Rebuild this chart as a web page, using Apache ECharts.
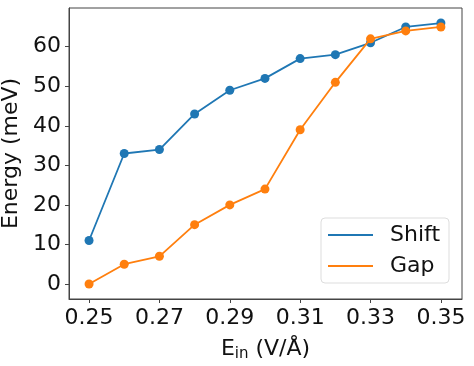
<!DOCTYPE html>
<html>
<head>
<meta charset="utf-8">
<script src="https://cdn.jsdelivr.net/npm/echarts@6/dist/echarts.min.js"></script>
<style>
html,body{margin:0;padding:0;background:#fff;}
#chart{width:474px;height:366px;}
</style>
</head>
<body>
<div id="chart"></div>
<script>
const xValues = [0.25, 0.26, 0.27, 0.28, 0.29, 0.30, 0.31, 0.32, 0.33, 0.34, 0.35];
const shiftValues = [11, 33, 34, 43, 49, 52, 57, 58, 61, 65, 66];
const gapValues = [0, 5, 7, 15, 20, 24, 39, 51, 62, 64, 65];
const xTicks = [0.25, 0.27, 0.29, 0.31, 0.33, 0.35];
const yTicks = [0, 10, 20, 30, 40, 50, 60];
const seriesNames = ['Shift', 'Gap'];
const colors = ['#1f77b4', '#ff7f0e'];

const font = 'DejaVu Sans';
const fs = 22;
const chart = echarts.init(document.getElementById('chart'), null, {renderer: 'canvas'});
const mk = (vals) => xValues.map((x, i) => [x, vals[i]]);

chart.setOption({
  animation: false,
  backgroundColor: '#fff',
  grid: {left: 69, top: 8, right: 12, bottom: 67, show: true, borderColor: '#444', borderWidth: 1,
    backgroundColor: 'transparent', containLabel: false, outerBoundsMode: 'none'},
  xAxis: {
    type: 'value', min: 0.2443, max: 0.3560,
    axisLine: {show: true, onZero: false, lineStyle: {color: '#444', width: 1}},
    axisTick: {show: true, length: 4, lineStyle: {color: '#444'}, customValues: xTicks},
    axisLabel: {customValues: xTicks, color: '#111', fontFamily: font, fontSize: fs, margin: 8,
      formatter: v => v.toFixed(2)},
    splitLine: {show: false},
    name: '{a|E}{s|in}{a| (V/Å)}',
    nameLocation: 'middle', nameGap: 38,
    nameTextStyle: {rich: {
      a: {fontFamily: font, fontSize: fs, color: '#111'},
      s: {fontFamily: font, fontSize: 15, color: '#111', verticalAlign: 'bottom', padding: [10, 0, 0, 0]}
    }}
  },
  yAxis: {
    type: 'value', min: -3.8, max: 69.8,
    axisLine: {show: true, onZero: false, lineStyle: {color: '#444', width: 1}},
    axisTick: {show: true, length: 4, lineStyle: {color: '#444'}, customValues: yTicks},
    axisLabel: {customValues: yTicks, color: '#111', fontFamily: font, fontSize: fs, margin: 8},
    splitLine: {show: false},
    name: 'Energy (meV)', nameLocation: 'middle', nameGap: 41,
    nameTextStyle: {fontFamily: font, fontSize: fs, color: '#111'}
  },
  legend: {
    orient: 'vertical', left: 321, top: 218,
    padding: [6, 9, 6, 7],
    backgroundColor: '#fff', borderColor: '#ddd', borderWidth: 1, borderRadius: 4,
    itemWidth: 45, itemHeight: 2, itemGap: 9,
    icon: 'rect',
    textStyle: {fontFamily: font, fontSize: fs, color: '#111', padding: [0, 0, 0, 12]},
    data: seriesNames
  },
  series: [
    {name: seriesNames[0], type: 'line', data: mk(shiftValues), color: colors[0],
     symbol: 'circle', symbolSize: 9, lineStyle: {width: 1.8}, z: 2},
    {name: seriesNames[1], type: 'line', data: mk(gapValues), color: colors[1],
     symbol: 'circle', symbolSize: 9, lineStyle: {width: 1.8}, z: 3}
  ]
});
</script>
</body>
</html>
